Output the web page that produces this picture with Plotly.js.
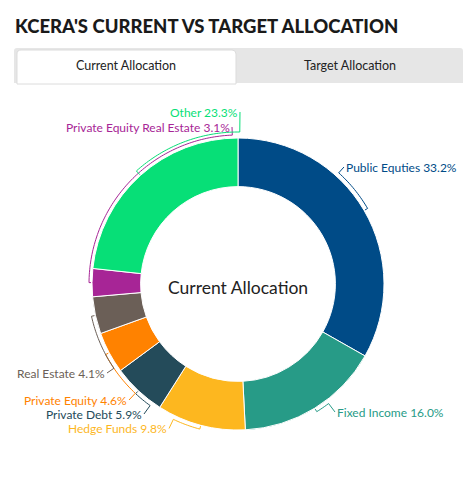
<!DOCTYPE html>
<html><head><meta charset="utf-8">
<script src="https://cdn.plot.ly/plotly-3.0.1.min.js"></script>
<style>html,body{margin:0;padding:0;background:#fff;}#chart{width:471px;height:480px;}</style>
</head><body><div id="chart"></div>
<script>
// ---- data ----
const categories = ['Public Equties', 'Fixed Income', 'Hedge Funds', 'Private Debt', 'Private Equity', 'Real Estate', 'Private Equity Real Estate', 'Other'];
const values = [33.2, 16.0, 9.8, 5.9, 4.6, 4.1, 3.1, 23.3];
const titleText = "KCERA'S CURRENT VS TARGET ALLOCATION";
const tabLabels = ['Current Allocation', 'Target Allocation'];
const centerLabel = 'Current Allocation';

// ---- styles / layout ----
const colors = ['#004b87', '#279b87', '#fdb71f', '#244b5a', '#ff8200', '#6b5f57', '#a72596', '#07df77'];
const W = 471, H = 480;
const cx = 238, cy = 284, R = 146, holeFrac = 0.667;
// label anchor positions (px) and alignment, connector radius
const labelPos = [
  {x: 345, y: 167, align: 'left',  rb: 150},
  {x: 336, y: 412, align: 'left',  rb: 150},
  {x: 168, y: 428.5, align: 'right', rb: 150},
  {x: 143, y: 414, align: 'right', rb: 150},
  {x: 128, y: 400, align: 'right', rb: 150},
  {x: 106, y: 373, align: 'right', rb: 150},
  {x: 231, y: 127, align: 'right', rb: 149},
  {x: 239, y: 112, align: 'right', rb: 152}
];
const FONT = 'Lato, "Open Sans", sans-serif';

function px(x) { return x / W; }
function py(y) { return 1 - y / H; }
function pt(r, deg) { const t = deg * Math.PI / 180; return [cx + r * Math.sin(t), cy - r * Math.cos(t)]; }
function P(p) { return px(p[0]).toFixed(5) + ',' + py(p[1]).toFixed(5); }

const total = values.reduce((a, b) => a + b, 0);
let cum = 0;
const shapes = [];
const annotations = [];

// tabs
shapes.push({type: 'path', xref: 'paper', yref: 'paper', layer: 'below', fillcolor: '#e6e6e6',
  line: {width: 0},
  path: 'M' + P([14, 83]) + ' L' + P([14, 51]) + ' Q' + P([14, 48]) + ' ' + P([17, 48]) +
        ' L' + P([460, 48]) + ' Q' + P([463, 48]) + ' ' + P([463, 51]) + ' L' + P([463, 83]) + ' Z'});
shapes.push({type: 'path', xref: 'paper', yref: 'paper', layer: 'below', fillcolor: '#ffffff',
  line: {color: '#dcdcdc', width: 1},
  path: 'M' + P([17, 84]) + ' L' + P([17, 54]) + ' Q' + P([17, 50]) + ' ' + P([21, 50]) +
        ' L' + P([232, 50]) + ' Q' + P([236, 50]) + ' ' + P([236, 54]) + ' L' + P([236, 84]) + ' Z'});
annotations.push({xref: 'paper', yref: 'paper', x: px(126), y: py(66), xanchor: 'center', yanchor: 'middle',
  text: tabLabels[0], showarrow: false, font: {family: FONT, size: 12.5, color: '#222'}});
annotations.push({xref: 'paper', yref: 'paper', x: px(350), y: py(66), xanchor: 'center', yanchor: 'middle',
  text: tabLabels[1], showarrow: false, font: {family: FONT, size: 12.5, color: '#222'}});

// center label
annotations.push({xref: 'paper', yref: 'paper', x: px(cx), y: py(287), xanchor: 'center', yanchor: 'middle',
  text: centerLabel, showarrow: false, font: {family: FONT, size: 17.5, color: '#222'}});

// outside labels + connectors
values.forEach((v, i) => {
  const a0 = cum / total * 360;
  cum += v;
  const a1 = cum / total * 360;
  const mid = (a0 + a1) / 2;
  const lp = labelPos[i];
  const ax = lp.align === 'left' ? lp.x - 1 : lp.x + 1;
  const ay = lp.y;
  let end = Math.atan2(ax - cx, -(ay - cy)) * 180 / Math.PI;
  while (end - mid > 180) end -= 360;
  while (mid - end > 180) end += 360;
  let d = 'M' + P(pt(R + 1, mid)) + ' L' + P(pt(lp.rb, mid));
  const steps = Math.max(1, Math.ceil(Math.abs(end - mid)));
  for (let s = 1; s <= steps; s++) {
    const ang = mid + (end - mid) * s / steps;
    d += ' L' + P(pt(lp.rb, ang));
  }
  d += ' L' + P([ax, ay]);
  shapes.push({type: 'path', xref: 'paper', yref: 'paper', path: d, layer: 'above',
    line: {color: colors[i], width: 1}});
  annotations.push({xref: 'paper', yref: 'paper', x: px(lp.x), y: py(lp.y),
    xanchor: lp.align, yanchor: 'middle', showarrow: false, borderpad: 0,
    text: categories[i] + ' ' + v.toFixed(1) + '%',
    font: {family: FONT, size: 12, color: colors[i]}});
});

const trace = {
  type: 'pie',
  labels: categories,
  values: values,
  sort: false,
  direction: 'clockwise',
  rotation: 0,
  hole: holeFrac,
  textinfo: 'none',
  hoverinfo: 'label+percent',
  marker: {colors: colors, line: {color: '#ffffff', width: 1}},
  domain: {x: [px(cx - R), px(cx + R)], y: [py(cy + R), py(cy - R)]},
  showlegend: false
};

const layout = {
  width: W, height: H,
  margin: {l: 0, r: 0, t: 0, b: 0},
  paper_bgcolor: '#ffffff',
  plot_bgcolor: '#ffffff',
  showlegend: false,
  title: {text: titleText, x: px(15), xanchor: 'left', xref: 'paper',
    y: 1 - 27 / H, yanchor: 'middle', yref: 'container',
    font: {family: FONT, size: 18.5, color: '#1a1a1a', weight: 900}},
  shapes: shapes,
  annotations: annotations
};

Plotly.newPlot('chart', [trace], layout, {displayModeBar: false, staticPlot: true});
</script>
</body></html>
